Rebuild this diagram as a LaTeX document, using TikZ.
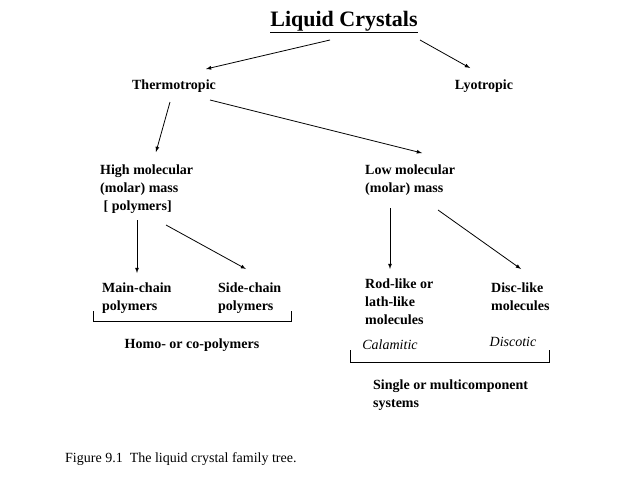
\documentclass[tikz,border=0pt]{standalone}
\usepackage{fontspec}
\setmainfont{Liberation Serif}
\begin{document}
\begin{tikzpicture}[x=1pt,y=-1pt,
  lbl/.style={font=\bfseries\fontsize{14}{18}\selectfont,align=left,inner sep=0},
  it/.style={font=\itshape\fontsize{14}{18}\selectfont,inner sep=0},
  arr/.style={-latex,thick},
  brk/.style={thin}]
\useasboundingbox (0,0) rectangle (638,479);
\node[font=\bfseries\fontsize{22}{24}\selectfont,inner sep=0] (title) at (344,22) {\underline{Liquid Crystals}};
\node[lbl] (thermo) at (174,86) {Thermotropic};
\node[lbl] (lyo) at (484,86) {Lyotropic};
\node[lbl,anchor=north west] (high) at (100,165) {High molecular\\(molar) mass\\\ [ polymers]};
\node[lbl,anchor=north west] (low) at (365,165) {Low molecular\\(molar) mass};
\node[lbl,anchor=north west] (main) at (102,283) {Main-chain\\polymers};
\node[lbl,anchor=north west] (side) at (218,283) {Side-chain\\polymers};
\node[lbl,anchor=north west] (rod) at (365,279) {Rod-like or\\lath-like\\molecules};
\node[lbl,anchor=north west] (disc) at (491,283) {Disc-like\\molecules};
\node[lbl] (homo) at (192,345) {Homo- or co-polymers};
\node[it] (cal) at (390,345) {Calamitic};
\node[it] (dis) at (513,342) {Discotic};
\node[lbl,anchor=north west] (single) at (373,380) {Single or multicomponent\\systems};
\node[font=\fontsize{14}{16}\selectfont,anchor=west,inner sep=0] (cap) at (65,459) {Figure 9.1\ \ The liquid crystal family tree.};
\coordinate (t1) at (330,40); \coordinate (t2) at (206,69);
\coordinate (t3) at (420,40); \coordinate (t4) at (470,68);
\draw[arr] (t1) -- (t2);
\draw[arr] (t3) -- (t4);
\coordinate (a1) at (170,102); \coordinate (a2) at (156,152);
\coordinate (b1) at (210,100); \coordinate (b2) at (422,153);
\draw[arr] (a1) -- (a2);
\draw[arr] (b1) -- (b2);
\coordinate (c1) at (137,220); \coordinate (c2) at (137,273);
\coordinate (d1) at (166,225); \coordinate (d2) at (246,269);
\draw[arr] (c1) -- (c2);
\draw[arr] (d1) -- (d2);
\coordinate (e1) at (390,208); \coordinate (e2) at (390,269);
\coordinate (f1) at (438,210); \coordinate (f2) at (521,269);
\draw[arr] (e1) -- (e2);
\draw[arr] (f1) -- (f2);
\draw[brk] (93,311) -- (93,321) -- (291,321) -- (291,311);
\draw[brk] (350,350) -- (350,362) -- (549,362) -- (549,350);
\end{tikzpicture}
\end{document}
